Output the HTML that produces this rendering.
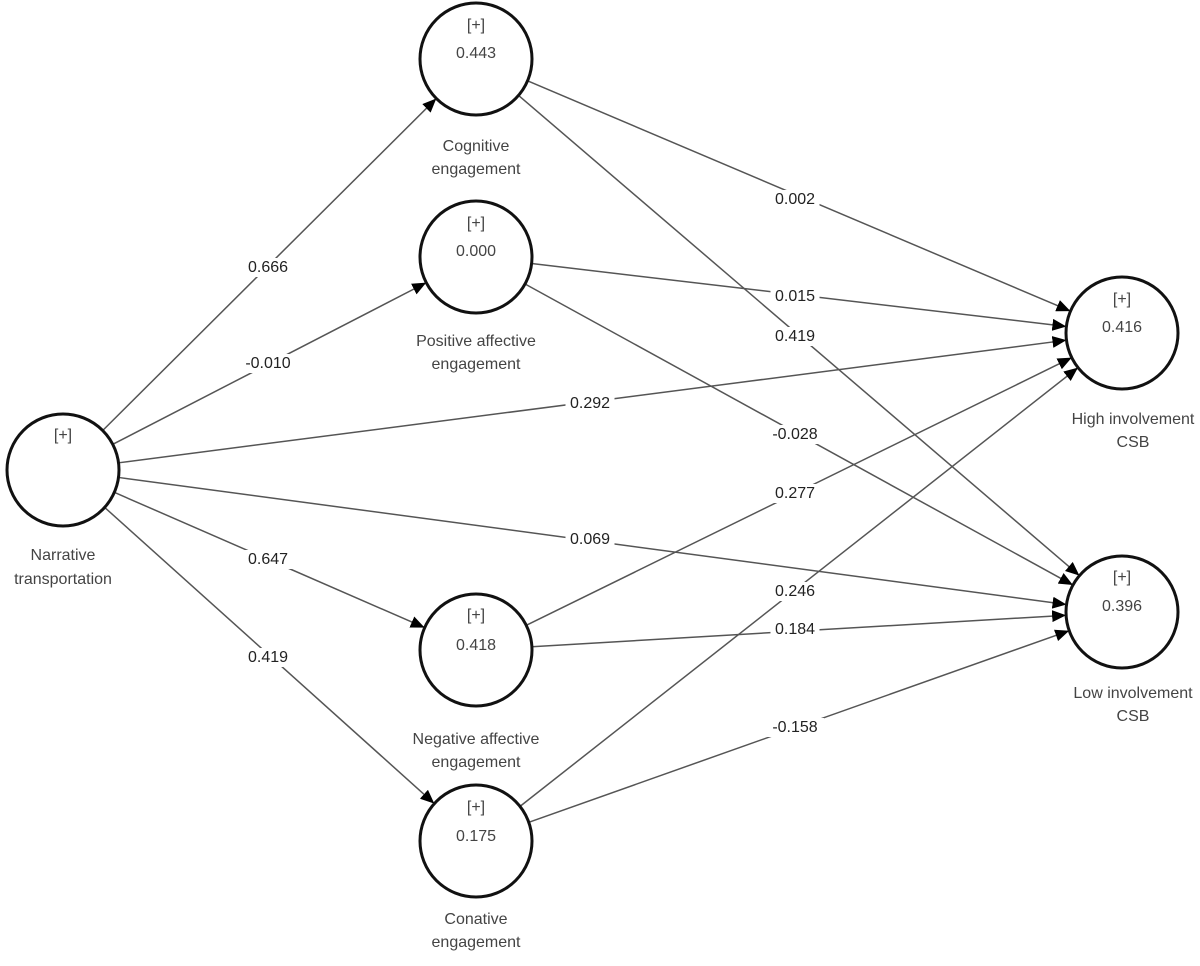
<!DOCTYPE html>
<html><head><meta charset="utf-8"><style>
html,body{margin:0;padding:0;background:#fff;}
svg{display:block;font-family:"Liberation Sans",sans-serif;}
.n{font-size:16px;fill:#444;text-anchor:middle;}
.l{font-size:16px;fill:#222;text-anchor:middle;}
</style></head><body>
<svg id="s" width="1200" height="966" viewBox="0 0 1200 966" xmlns="http://www.w3.org/2000/svg">
<defs><marker id="a" markerWidth="14" markerHeight="12" refX="13" refY="6" orient="auto" markerUnits="userSpaceOnUse"><path d="M0,0 L14,6 L0,12 z" fill="#000"/></marker></defs>
<g id="lines"></g>
<g id="labels"></g>
<g fill="#fff" stroke="#111" stroke-width="3">
<circle cx="63" cy="470" r="56"/>
<circle cx="476" cy="59" r="56"/>
<circle cx="476" cy="257" r="56"/>
<circle cx="476" cy="650" r="56"/>
<circle cx="476" cy="841" r="56"/>
<circle cx="1122" cy="333" r="56"/>
<circle cx="1122" cy="612" r="56"/>
</g>
<text class="n" x="63" y="440">[+]</text>
<text class="n" x="476" y="30">[+]</text><text class="n" x="476" y="58">0.443</text>
<text class="n" x="476" y="228">[+]</text><text class="n" x="476" y="256">0.000</text>
<text class="n" x="476" y="620">[+]</text><text class="n" x="476" y="650">0.418</text>
<text class="n" x="476" y="812">[+]</text><text class="n" x="476" y="841">0.175</text>
<text class="n" x="1122" y="304">[+]</text><text class="n" x="1122" y="332">0.416</text>
<text class="n" x="1122" y="582">[+]</text><text class="n" x="1122" y="611">0.396</text>
<text class="n" x="63" y="560">Narrative</text><text class="n" x="63" y="584">transportation</text>
<text class="n" x="476" y="151">Cognitive</text><text class="n" x="476" y="174">engagement</text>
<text class="n" x="476" y="346">Positive affective</text><text class="n" x="476" y="369">engagement</text>
<text class="n" x="476" y="744">Negative affective</text><text class="n" x="476" y="767">engagement</text>
<text class="n" x="476" y="924">Conative</text><text class="n" x="476" y="947">engagement</text>
<text class="n" x="1133" y="424">High involvement</text><text class="n" x="1133" y="447">CSB</text>
<text class="n" x="1133" y="698">Low involvement</text><text class="n" x="1133" y="721">CSB</text>
</svg>
<script>
var N={nt:[63,470],cg:[476,59],pa:[476,257],na:[476,650],co:[476,841],hi:[1122,333],lo:[1122,612]};
var R=56;
var E=[["nt","cg"],["nt","pa"],["nt","hi"],["nt","na"],["nt","co"],["nt","lo"],["cg","hi"],["cg","lo"],["pa","hi"],["pa","lo"],["na","hi"],["na","lo"],["co","hi"],["co","lo"]];
var L=[["0.666",268,272],["-0.010",268,368],["0.292",590,408],["0.647",268,564],["0.419",268,662],["0.069",590,544],["0.002",795,204],["0.015",795,301],["0.419",795,341],["-0.028",795,439],["0.277",795,498],["0.246",795,596],["0.184",795,634],["-0.158",795,732]];
var ns="http://www.w3.org/2000/svg",g=document.getElementById("lines"),lg=document.getElementById("labels");
E.forEach(function(e){var a=N[e[0]],b=N[e[1]];var dx=b[0]-a[0],dy=b[1]-a[1],d=Math.sqrt(dx*dx+dy*dy);
var l=document.createElementNS(ns,"line");
l.setAttribute("x1",a[0]+dx/d*R);l.setAttribute("y1",a[1]+dy/d*R);
l.setAttribute("x2",b[0]-dx/d*(R+1));l.setAttribute("y2",b[1]-dy/d*(R+1));
l.setAttribute("stroke","#555");l.setAttribute("stroke-width","1.5");l.setAttribute("marker-end","url(#a)");g.appendChild(l);});
L.forEach(function(t){var w=t[0].length*9+4;var r=document.createElementNS(ns,"rect");
r.setAttribute("x",t[1]-w/2);r.setAttribute("y",t[2]-14);r.setAttribute("width",w);r.setAttribute("height",19);r.setAttribute("fill","#fff");lg.appendChild(r);
var x=document.createElementNS(ns,"text");x.setAttribute("class","l");x.setAttribute("x",t[1]);x.setAttribute("y",t[2]);x.textContent=t[0];lg.appendChild(x);});
</script>
</body></html>
